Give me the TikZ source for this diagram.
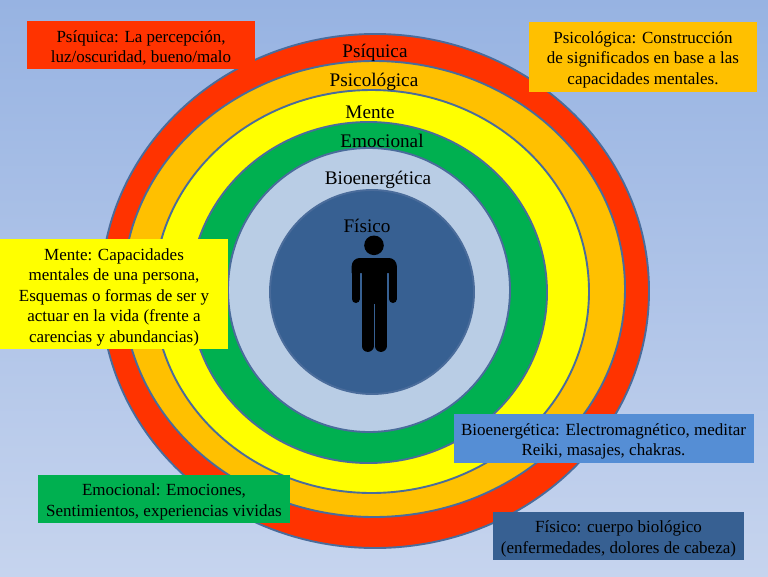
\documentclass[tikz,border=0pt]{standalone}
\usepackage{fontspec}
\setmainfont{Liberation Serif}
\definecolor{ringred}{HTML}{FF3300}
\definecolor{ringorange}{HTML}{FFC000}
\definecolor{ringyellow}{HTML}{FFFF00}
\definecolor{ringgreen}{HTML}{00B050}
\definecolor{ringpale}{HTML}{B9CDE5}
\definecolor{ringblue}{HTML}{376092}
\definecolor{ringedge}{HTML}{4A6C9B}
\definecolor{boxblue}{HTML}{558ED5}
\definecolor{bgtop}{HTML}{97B3E2}
\definecolor{bgbottom}{HTML}{C6D4EE}
\newcommand{\lowered}{\rule{0pt}{18pt}}
\tikzset{
 ring/.style={ellipse,draw=ringedge,line width=1.9pt,inner sep=0pt},
 ringlabel/.style={font=\fontsize{19.2}{22}\selectfont,inner sep=0pt},
 infobox/.style={align=center,font=\fontsize{17}{20.5}\selectfont,inner sep=2pt},
 limb/.style={line width=#1,line cap=round},
}
\usetikzlibrary{shapes.geometric}
\begin{document}
\begin{tikzpicture}[x=1pt,y=-1pt]
 \useasboundingbox (0,0) rectangle (768,576);
 \shade[top color=bgtop,bottom color=bgbottom] (0,0) rectangle (768,576);
 % rings
 \node[ring,fill=ringred,minimum width=548,minimum height=514] (psiquica) at (375,291) {};
 \node[ring,fill=ringorange,minimum width=502,minimum height=456] (psicologica) at (374,289) {};
 \node[ring,fill=ringyellow,minimum width=435,minimum height=403] (mente) at (371.5,291.5) {};
 \node[ring,fill=ringgreen,minimum width=357,minimum height=341] (emocional) at (368.5,292.5) {};
 \node[ring,fill=ringpale,minimum width=282,minimum height=284] (bioenergetica) at (369,290) {};
 \node[ring,fill=ringblue,minimum width=204,minimum height=204] (fisico) at (372,292) {};
 % ring labels
 \node[ringlabel] (lpsiquica) at (375,53) {Psíquica};
 \node[ringlabel] (lpsicologica) at (374,82) {Psicológica};
 \node[ringlabel] (lmente) at (370,112) {Mente};
 \node[ringlabel] (lemocional) at (382,141) {Emocional};
 \node[ringlabel] (lbio) at (378,180) {Bioenergética};
 \node[ringlabel] (lfisico) at (367,226) {Físico};
 % person
 \fill[black] (374,245.3) circle (9.8);
 \fill[black] (351.7,273) [rounded corners=8] -- (351.7,258) -- (396.8,258) [sharp corners] -- (396.8,273) -- cycle;
 \fill[black] (361.7,265) rectangle (386.7,303.5);
 \draw[limb=8] (355.7,270) -- (355.7,299);
 \draw[limb=8] (392.8,270) -- (392.8,299);
 \draw[limb=11.8] (367.6,300) -- (367.6,346);
 \draw[limb=11.8] (380.8,300) -- (380.8,346);
 % boxes
 \node[infobox,fill=ringred,minimum width=228,minimum height=48] (bpsiquica) at (141,45) {\lowered Psíquica: La percepción,\\luz/oscuridad, bueno/malo};
 \node[infobox,fill=ringorange,minimum width=228,minimum height=70] (bpsicologica) at (643,56.5) {\lowered Psicológica: Construcción\\de significados en base a las\\capacidades mentales.};
 \node[infobox,fill=ringyellow,minimum width=228,minimum height=110] (bmente) at (114,294) {\lowered Mente: Capacidades\\mentales de una persona,\\Esquemas o formas de ser y\\actuar en la vida (frente a\\carencias y abundancias)};
 \node[infobox,fill=boxblue,minimum width=300,minimum height=49] (bbio) at (603.5,438.5) {\lowered Bioenergética: Electromagnético, meditar\\Reiki, masajes, chakras.};
 \node[infobox,fill=ringgreen,minimum width=252,minimum height=48] (bemocional) at (164,499) {\lowered Emocional: Emociones,\\Sentimientos, experiencias vividas};
 \node[infobox,fill=ringblue,minimum width=251,minimum height=48] (bfisico) at (618.5,536) {\lowered Físico: cuerpo biológico\\(enfermedades, dolores de cabeza)};
\end{tikzpicture}
\end{document}
